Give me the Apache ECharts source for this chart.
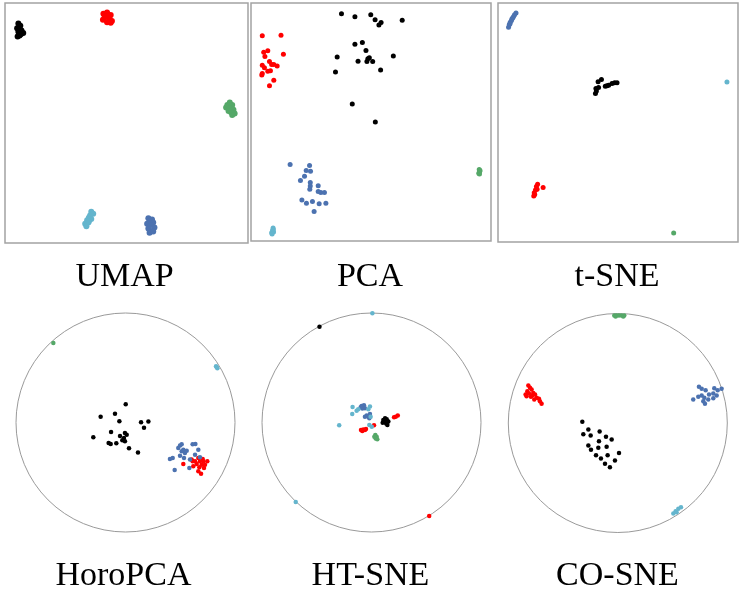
<!DOCTYPE html>
<html>
<head>
<meta charset="utf-8">
<script src="https://cdn.jsdelivr.net/npm/echarts@6/dist/echarts.min.js"></script>
<style>
  html, body { margin: 0; padding: 0; background: #fff; }
  #chart { width: 745px; height: 589px; }
</style>
</head>
<body>
<div id="chart"></div>
<script>
// ---- 面板標題 ----
const panelTitles = ['UMAP', 'PCA', 't-SNE', 'HoroPCA', 'HT-SNE', 'CO-SNE'];

// ---- 上排（方框，座標 0-100）----
const umapBlack = [[5.5,91.5],[6.3,90.5],[5,89.5],[6.8,88.5],[7.5,87.5],[5.5,88],[6,86.5],[5.2,86],[6.5,87],[5.8,89.5]];
const umapRed = [[40.5,95.5],[42,96],[43.5,95],[41,94],[43,93.5],[44,92.5],[42,92],[40.3,93],[42.5,94.5],[43.5,91.8]];
const umapGreen = [[91.5,57.5],[92.5,58.5],[93.5,57.5],[91,56.5],[92.5,56],[94,55.5],[93,54.5],[94.5,54],[93.5,53.3],[92,55]];
const umapCyan = [[35.5,13],[36.3,12.2],[35,11.5],[34.5,10.5],[35.5,10],[33.8,9.5],[34.3,8.5],[33,8],[33.5,7],[34.5,9]];
const umapBlue = [[59,10.3],[60.5,9.8],[59.5,9],[61,8.5],[58.5,8],[60,7.5],[61.5,6.5],[59,6],[60.5,5],[59.5,4.3],[61,4.8]];

const pcaBlack = [[37.7,95.5],[43.3,94.2],[49.9,95.1],[51.7,93.0],[53.3,90.8],[54.2,91.8],[63.0,92.7],[43.3,82.7],[46.4,83.4],[47.9,80.0],[35.9,77.3],[44.6,75.5],[48.7,76.6],[49.3,77.0],[48.3,75.4],[50.7,75.4],[59.3,77.7],[35.2,71.0],[54.0,71.8],[42.2,57.6],[51.8,50.0]];
const pcaRed = [[4.7,86.2],[12.5,86.5],[5.3,79.3],[7.0,79.9],[5.8,77.5],[13.5,78.5],[4.7,73.8],[7.7,75.4],[9.5,74.2],[10.9,73.5],[5.6,72.8],[8.1,71.5],[7.0,71.3],[4.7,70.4],[4.5,69.7],[9.5,67.5],[7.7,65.2],[8.6,74.2]];
const pcaBlue = [[16.3,32.1],[24.4,31.7],[23.0,29.6],[24.8,29.3],[22.3,27.2],[20.6,25.4],[24.7,24.6],[24.7,23.1],[28.0,23.2],[24.5,21.7],[28.0,20.8],[29.1,20.4],[30.6,20.4],[21.2,17.2],[23.1,15.9],[25.6,16.6],[28.4,15.6],[31.2,15.9],[26.3,12.4]];
const pcaGreen = [[95.1,30],[95.3,29.2],[94.9,28.5],[95.2,28.1],[95.4,29.6]];
const pcaCyan = [[9.2,5.5],[9.0,4.5],[8.6,3.5],[9.4,3.8],[8.8,2.9],[9.3,4.8]];

const tsneBlue = [[7.5,95.8],[6.9,95.1],[6.5,94.4],[6.1,93.7],[5.6,92.7],[5.1,91.9],[4.7,90.9],[4.4,89.9],[5.0,91.3],[5.8,93.3]];
const tsneBlack = [[43.1,68.0],[41.7,67.0],[40.8,64.2],[41.9,64.6],[40.6,62.1],[44.7,65.2],[46.1,65.6],[47.5,66.3],[48.6,66.6],[49.6,66.6],[41.0,63.2],[45.4,65.4]];
const tsneCyan = [[95.4,66.9]];
const tsneRed = [[16.5,24.2],[16.0,23.2],[15.6,21.8],[15.1,20.6],[14.9,19.2],[18.8,22.8],[16.3,22.1],[15.3,19.9]];
const tsneGreen = [[73.2,3.8]];

// ---- 下排（龐加萊圓盤，座標 -1..1）----
const horoGreen = [[-0.659,0.726]];
const horoCyan = [[0.833,0.504],[0.827,0.513],[0.839,0.495]];
const horoBlack = [[0.002,0.166],[-0.227,0.053],[-0.096,0.081],[-0.056,0.011],[0.142,0.002],[0.209,0.008],[0.169,-0.047],[-0.132,-0.087],[-0.005,-0.096],[-0.050,-0.123],[-0.014,-0.142],[0.011,-0.111],[-0.294,-0.135],[-0.154,-0.187],[-0.135,-0.196],[-0.084,-0.190],[-0.029,-0.163],[-0.005,-0.172],[0.032,-0.236],[0.114,-0.275]];
const horoBlue = [[0.498,-0.209],[0.513,-0.199],[0.482,-0.233],[0.528,-0.248],[0.513,-0.263],[0.543,-0.279],[0.613,-0.199],[0.638,-0.196],[0.559,-0.257],[0.665,-0.248],[0.406,-0.333],[0.431,-0.324],[0.534,-0.324],[0.589,-0.339],[0.635,-0.294],[0.449,-0.434],[0.583,-0.416],[0.680,-0.318],[0.498,-0.303]];
const horoRed = [[0.528,-0.379],[0.604,-0.339],[0.635,-0.355],[0.665,-0.324],[0.680,-0.355],[0.711,-0.355],[0.747,-0.355],[0.650,-0.379],[0.696,-0.385],[0.674,-0.409],[0.717,-0.416],[0.665,-0.446],[0.690,-0.467],[0.613,-0.355],[0.705,-0.333],[0.619,-0.400],[0.726,-0.385]];

const htBlue = [[-0.090,0.151],[-0.069,0.157],[-0.060,0.130],[-0.084,0.127],[-0.099,0.139],[-0.044,0.063],[-0.029,0.053],[-0.020,0.038],[-0.060,0.053],[-0.014,0.078]];
const htCyan = [[0.008,0.997],[-0.692,-0.725],[-0.173,0.142],[-0.176,0.078],[-0.136,0.108],[-0.295,-0.026],[-0.014,0.145],[-0.029,0.121],[-0.008,0.053],[0.002,-0.038],[-0.020,-0.023],[-0.121,0.121]];
const htBlack = [[-0.475,0.875],[0.108,0.023],[0.124,0.038],[0.139,0.029],[0.154,0.008],[0.133,-0.008],[0.102,-0.002],[0.145,-0.023],[0.118,0.008]];
const htRed = [[0.527,-0.853],[-0.096,-0.069],[-0.075,-0.063],[-0.060,-0.069],[-0.084,-0.078],[-0.050,-0.060],[0.221,0.053],[0.240,0.063],[0.206,0.047],[0.023,-0.026]];
const htGreen = [[0.035,-0.115],[0.047,-0.130],[0.038,-0.145],[0.053,-0.154],[0.026,-0.130]];

const coGreen = [[-0.032,0.982],[-0.011,0.982],[0.011,0.982],[0.035,0.982],[0.059,0.982],[-0.020,0.973],[0.050,0.973]];
const coRed = [[-0.817,0.342],[-0.802,0.321],[-0.826,0.291],[-0.787,0.306],[-0.842,0.260],[-0.811,0.269],[-0.772,0.275],[-0.756,0.260],[-0.793,0.239],[-0.741,0.230],[-0.720,0.221],[-0.711,0.199],[-0.696,0.175],[-0.763,0.215],[-0.833,0.245],[-0.781,0.251]];
const coBlue = [[0.741,0.330],[0.766,0.312],[0.802,0.300],[0.881,0.318],[0.912,0.300],[0.948,0.312],[0.872,0.269],[0.903,0.251],[0.833,0.260],[0.766,0.251],[0.790,0.230],[0.735,0.239],[0.689,0.215],[0.781,0.199],[0.826,0.215],[0.872,0.227],[0.796,0.175]];
const coBlack = [[-0.324,0.011],[-0.315,-0.102],[-0.269,-0.059],[-0.248,-0.114],[-0.166,-0.078],[-0.108,-0.126],[-0.056,-0.151],[-0.269,-0.205],[-0.172,-0.166],[-0.245,-0.245],[-0.178,-0.227],[-0.102,-0.218],[-0.199,-0.294],[-0.154,-0.324],[-0.093,-0.294],[0.011,-0.275],[-0.026,-0.342],[-0.117,-0.373],[-0.072,-0.403]];
const coCyan = [[0.507,-0.826],[0.528,-0.805],[0.553,-0.784],[0.577,-0.769],[0.537,-0.814]];

const COLORS = { black: '#000000', red: '#ff0000', green: '#55a868', cyan: '#64b5cd', blue: '#4c72b0' };

// 每個面板：[黑, 紅, 藍, 綠, 青]
const panels = [
    { black: umapBlack, red: umapRed, blue: umapBlue, green: umapGreen, cyan: umapCyan, size: 6 },
    { black: pcaBlack, red: pcaRed, blue: pcaBlue, green: pcaGreen, cyan: pcaCyan, size: 5 },
    { black: tsneBlack, red: tsneRed, blue: tsneBlue, green: tsneGreen, cyan: tsneCyan, size: 5 },
    { black: horoBlack, red: horoRed, blue: horoBlue, green: horoGreen, cyan: horoCyan, size: 4.5 },
    { black: htBlack, red: htRed, blue: htBlue, green: htGreen, cyan: htCyan, size: 4.5 },
    { black: coBlack, red: coRed, blue: coBlue, green: coGreen, cyan: coCyan, size: 4.5 }
];

const chart = echarts.init(document.getElementById('chart'), null, { renderer: 'canvas' });

const boxGrids = [
    { left: 5, top: 3, width: 243, height: 240 },
    { left: 251, top: 3, width: 240, height: 238 },
    { left: 498, top: 3, width: 240, height: 239 }
];
const diskCenters = [[125.5, 422.5], [371.5, 422.5], [617.8, 423]];
const diskR = 109.5;

const grid = [], xAxis = [], yAxis = [], series = [];
boxGrids.forEach((g, i) => {
    grid.push(Object.assign({ show: true, borderColor: '#a3a3a3', borderWidth: 1.5, backgroundColor: '#fff' }, g));
    xAxis.push({ gridIndex: i, type: 'value', min: 0, max: 100, show: false });
    yAxis.push({ gridIndex: i, type: 'value', min: 0, max: 100, show: false });
});
diskCenters.forEach((c, j) => {
    const i = j + 3;
    grid.push({ left: c[0] - diskR, top: c[1] - diskR, width: diskR * 2, height: diskR * 2 });
    xAxis.push({ gridIndex: i, type: 'value', min: -1, max: 1, show: false });
    yAxis.push({ gridIndex: i, type: 'value', min: -1, max: 1, show: false });
});

panels.forEach((p, i) => {
    ['black', 'red', 'blue', 'green', 'cyan'].forEach(k => {
        series.push({
            type: 'scatter', xAxisIndex: i, yAxisIndex: i,
            data: p[k], symbolSize: p.size,
            itemStyle: { color: COLORS[k], opacity: 1 },
            silent: true
        });
    });
});

// 圓盤邊界用極座標的角度軸畫
const polar = diskCenters.map(c => ({ center: c, radius: diskR }));
const angleAxis = diskCenters.map((c, i) => ({
    polarIndex: i, type: 'value', min: 0, max: 360,
    axisLine: { show: true, lineStyle: { color: '#9a9a9a', width: 1 } },
    axisTick: { show: false }, axisLabel: { show: false }, splitLine: { show: false }
}));
const radiusAxis = diskCenters.map((c, i) => ({
    polarIndex: i, type: 'value', min: 0, max: 1, show: false
}));

const titleX = [124.5, 370, 617, 123.5, 370.5, 617.5];
const title = panelTitles.map((t, i) => ({
    text: t,
    left: titleX[i],
    top: i < 3 ? 260 : 559,
    textAlign: 'center',
    padding: 0,
    textStyle: { fontFamily: '"Liberation Serif", "Times New Roman", serif', fontSize: 34, fontWeight: 'normal', color: '#000' }
}));

chart.setOption({
    backgroundColor: '#fff',
    animation: false,
    title,
    grid, xAxis, yAxis,
    polar, angleAxis, radiusAxis,
    series
});
</script>
</body>
</html>
